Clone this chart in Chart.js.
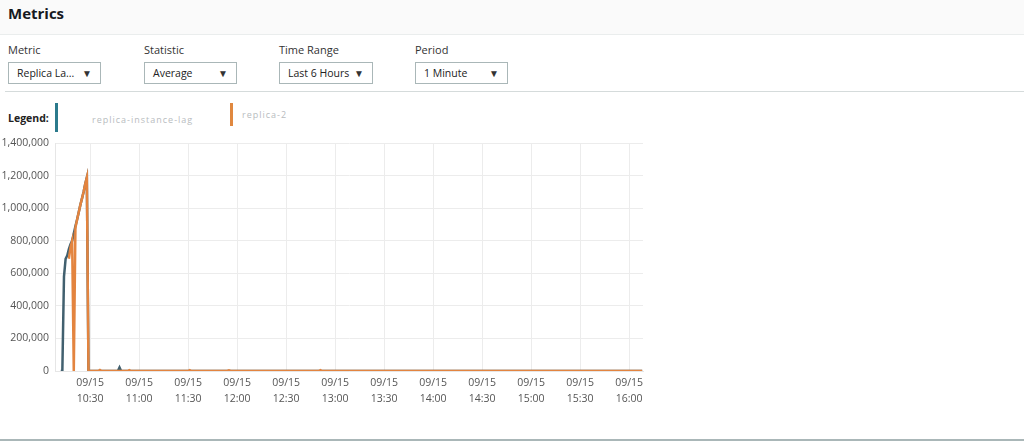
<!DOCTYPE html>
<html>
<head>
<meta charset="utf-8">
<script src="https://cdn.jsdelivr.net/npm/chart.js@4/dist/chart.umd.min.js"></script>
<style>
  html, body { margin:0; padding:0; width:1024px; height:443px; overflow:hidden; background:#fff; font-family:"Open Sans", "Noto Sans", sans-serif; color:#16191f; }
  #hdr { position:absolute; left:0; top:0; width:1024px; height:34px; background:#fafafa; border-bottom:1px solid #eaeded; }
  #hdr span { position:absolute; left:8px; top:3px; font-size:15px; font-weight:700; color:#16191f; }
  .lbl { position:absolute; top:42px; font-size:11px; color:#333; }
  .dd { position:absolute; top:62px; border:1px solid #aab7b8; font-size:10.5px; color:#222; box-sizing:border-box; height:22px; }
  .dd span { position:absolute; left:8px; top:3px; }
  .dd i { position:absolute; right:8px; top:3px; font-style:normal; font-size:10px; color:#333; }
  #sep { position:absolute; left:5px; top:91px; width:1019px; height:1px; background:#d5dbdb; }
  #bot { position:absolute; left:0; top:439px; width:1024px; height:2px; background:#aab7b8; }
  #legend { position:absolute; left:8px; top:111px; font-size:10.5px; font-weight:700; color:#222; }
  .sw { position:absolute; width:3px; }
  .lt { position:absolute; font-size:9px; color:#b8bcc0; letter-spacing:1px; }
  #wrap { position:absolute; left:0; top:131px; width:660px; height:279px; }
</style>
</head>
<body>
<div id="hdr"><span>Metrics</span></div>
<div class="lbl" style="left:8px">Metric</div>
<div class="lbl" style="left:144px">Statistic</div>
<div class="lbl" style="left:279px">Time Range</div>
<div class="lbl" style="left:415px">Period</div>
<div class="dd" style="left:8px;width:93px"><span>Replica La...</span><i>&#9660;</i></div>
<div class="dd" style="left:144px;width:93px"><span>Average</span><i>&#9660;</i></div>
<div class="dd" style="left:279px;width:94px"><span>Last 6 Hours</span><i>&#9660;</i></div>
<div class="dd" style="left:415px;width:93px"><span>1 Minute</span><i>&#9660;</i></div>
<div id="sep"></div>
<div id="legend">Legend:</div>
<div id="legendItems"></div>
<div id="wrap"><canvas id="c" width="660" height="279"></canvas></div>
<div id="bot"></div>
<script>
// Time in minutes since midnight (09/15)
const seriesNames = ["replica-instance-lag", "replica-2"];
const darkTimes  = [612, 613, 614, 615, 616, 617, 618, 619, 620, 621, 622, 623, 624, 625, 626, 627, 628, 629, 647, 648, 649, 968];
const darkValues = [0, 0, 580000, 690000, 710000, 750000, 780000, 800000, 845000, 890000, 930000, 975000, 1020000, 1060000, 1100000, 1150000, 1190000, 0, 0, 22000, 0, 0];
const orangeTimes  = [617, 618, 619, 620, 621, 622, 623, 624, 625, 626, 627, 628, 629, 635, 636, 637, 653, 654, 655, 690, 691, 692, 714, 715, 716, 770, 771, 772, 968];
const orangeValues = [690000, 760000, 800000, 0, 880000, 930000, 975000, 1020000, 1060000, 1100000, 1150000, 1190000, 0, 0, 6000, 0, 0, 5000, 0, 0, 5000, 0, 0, 4000, 0, 0, 5000, 0, 0];
const xTickValues = [630, 660, 690, 720, 750, 780, 810, 840, 870, 900, 930, 960];
const xMin = 608.5, xMax = 968.5;
const yTicks = [0, 200000, 400000, 600000, 800000, 1000000, 1200000, 1400000];
const dateLabel = "09/15";
const colors = ["#41606f", "#e3843f"];

const toPts = (t, v) => t.map((x, i) => ({x: x, y: v[i]}));
function hhmm(m) { const h = Math.floor(m / 60), mm = m % 60; return h + ":" + (mm < 10 ? "0" : "") + mm; }

// legend
const li = document.getElementById("legendItems");
li.innerHTML =
  '<div class="sw" style="left:55px;top:103px;height:29px;background:#2b7a8c"></div>' +
  '<div class="lt" style="left:92px;top:113px">' + seriesNames[0] + '</div>' +
  '<div class="sw" style="left:230px;top:103px;height:23px;background:#e0883f"></div>' +
  '<div class="lt" style="left:242px;top:108px">' + seriesNames[1] + '</div>';

new Chart(document.getElementById("c"), {
  type: "line",
  data: {
    datasets: [
      { label: seriesNames[1], data: toPts(orangeTimes, orangeValues), borderColor: colors[1], borderWidth: 2.5, pointRadius: 0, tension: 0, order: 0 },
      { label: seriesNames[0], data: toPts(darkTimes, darkValues), borderColor: colors[0], borderWidth: 2.5, pointRadius: 0, tension: 0, order: 1 }
    ]
  },
  options: {
    responsive: false,
    animation: false,
    events: [],
    layout: { padding: { top: 9, right: 17, left: 0, bottom: 0 } },
    plugins: { legend: { display: false }, tooltip: { enabled: false } },
    scales: {
      x: {
        type: "linear", min: xMin, max: xMax,
        afterBuildTicks: (s) => { s.ticks = xTickValues.map(v => ({ value: v })); },
        afterFit: (s) => { s.height = 39; },
        grid: { color: "#ececec", drawTicks: false },
        border: { color: "#e6e6e6" },
        ticks: {
          padding: 4, maxRotation: 0, autoSkip: false,
          color: "#555", font: { family: "Open Sans", size: 10.5, lineHeight: 1.5 },
          callback: (v) => [dateLabel, hhmm(v)]
        }
      },
      y: {
        min: 0, max: 1400000,
        afterBuildTicks: (s) => { s.ticks = yTicks.map(v => ({ value: v })); },
        afterFit: (s) => { s.width = 55; },
        grid: { color: "#ececec", drawTicks: false },
        border: { color: "#e6e6e6" },
        ticks: {
          padding: 6, color: "#555", font: { family: "Open Sans", size: 10.5 },
          callback: (v) => v.toLocaleString("en-US")
        }
      }
    }
  }
});
</script>
</body>
</html>
